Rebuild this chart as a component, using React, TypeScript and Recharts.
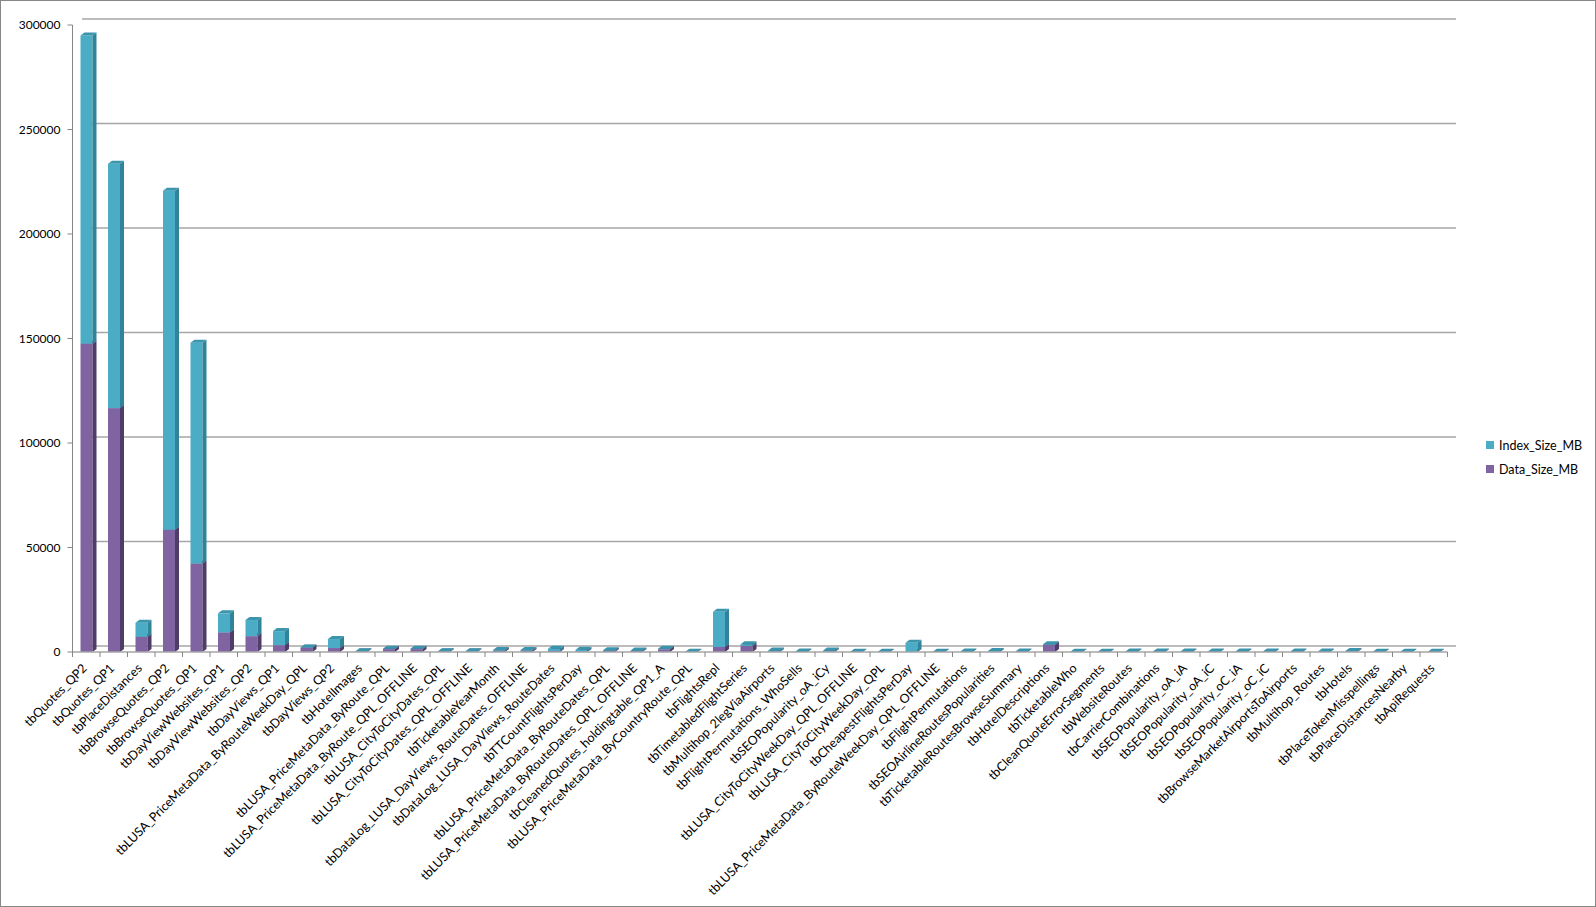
import React from "react";
import { BarChart, Bar, XAxis, YAxis, CartesianGrid } from "recharts";

// table sizes in MB
const categories = [
  "tbQuotes_QP2", "tbQuotes_QP1", "tbPlaceDistances", "tbBrowseQuotes_QP2", "tbBrowseQuotes_QP1",
  "tbDayViewWebsites_QP1", "tbDayViewWebsites_QP2", "tbDayViews_QP1", "tbLUSA_PriceMetaData_ByRouteWeekDay_QPL", "tbDayViews_QP2",
  "tbHotelImages", "tbLUSA_PriceMetaData_ByRoute_QPL", "tbLUSA_PriceMetaData_ByRoute_QPL_OFFLINE", "tbLUSA_CityToCityDates_QPL", "tbLUSA_CityToCityDates_QPL_OFFLINE",
  "tbTicketableYearMonth", "tbDataLog_LUSA_DayViews_RouteDates_OFFLINE", "tbDataLog_LUSA_DayViews_RouteDates", "tbTTCountFlightsPerDay", "tbLUSA_PriceMetaData_ByRouteDates_QPL",
  "tbLUSA_PriceMetaData_ByRouteDates_QPL_OFFLINE", "tbCleanedQuotes_holdingtable_QP1_A", "tbLUSA_PriceMetaData_ByCountryRoute_QPL", "tbFlightsRepl", "tbTimetabledFlightSeries",
  "tbMultihop_2legViaAirports", "tbFlightPermutations_WhoSells", "tbSEOPopularity_oA_iCy", "tbLUSA_CityToCityWeekDay_QPL_OFFLINE", "tbLUSA_CityToCityWeekDay_QPL",
  "tbCheapestFlightsPerDay", "tbLUSA_PriceMetaData_ByRouteWeekDay_QPL_OFFLINE", "tbFlightPermutations", "tbSEOAirlineRoutesPopularities", "tbTicketableRoutesBrowseSummary",
  "tbHotelDescriptions", "tbTicketableWho", "tbCleanQuoteErrorSegments", "tbWebsiteRoutes", "tbCarrierCombinations",
  "tbSEOPopularity_oA_iA", "tbSEOPopularity_oA_iC", "tbSEOPopularity_oC_iA", "tbSEOPopularity_oC_iC", "tbBrowseMarketAirportsToAirports",
  "tbMultihop_Routes", "tbHotels", "tbPlaceTokenMisspellings", "tbPlaceDistancesNearby", "tbApiRequests",
];

const dataSize = [
  147500, 116700, 7300, 58500, 42300,
  9400, 7600, 3300, 2000, 1900,
  200, 1400, 1400, 200, 200,
  600, 600, 500, 200, 500,
  400, 1300, 50, 2400, 2900,
  200, 50, 200, 50, 50,
  100, 50, 50, 100, 50,
  3400, 50, 50, 50, 50,
  50, 50, 50, 50, 50,
  50, 300, 50, 50, 50,
];

const indexSize = [
  147500, 116900, 6700, 162200, 105700,
  9100, 7700, 6700, 200, 4300,
  200, 150, 150, 150, 150,
  300, 300, 1100, 900, 300,
  300, 300, 100, 16800, 800,
  500, 150, 500, 100, 100,
  4300, 100, 150, 400, 150,
  300, 100, 100, 150, 150,
  150, 150, 150, 150, 150,
  150, 200, 100, 100, 100,
];

const yTicks = [0, 50000, 100000, 150000, 200000, 250000, 300000];
const Y_MAX = 300000;

const DATA_KEY = "Data_Size_MB";
const INDEX_KEY = "Index_Size_MB";

const rows = categories.map((name, i) => ({
  name,
  [DATA_KEY]: dataSize[i],
  [INDEX_KEY]: indexSize[i],
}));

const TEAL = { front: "#4BACC6", side: "#31839A", top: "#3B95AD" };
const PURPLE = { front: "#8064A2", side: "#4F3C69", top: "#6A5189" };

// 3D depth of the bars and of the back wall (Excel perspective look)
const DX = 4;
const DY = 3;
const WALL_DY = 6;

function Box3D(props: any) {
  const { x, y, width, height, colors } = props;
  if (x == null || y == null) return null;
  const w = width;
  const h = Math.max(height, 0);
  return (
    <g>
      <rect x={x} y={y} width={w} height={h} fill={colors.front} />
      <polygon
        points={`${x + w},${y} ${x + w + DX},${y - DY} ${x + w + DX},${y + h - DY} ${x + w},${y + h}`}
        fill={colors.side}
      />
      <polygon
        points={`${x},${y} ${x + DX},${y - DY} ${x + w + DX},${y - DY} ${x + w},${y}`}
        fill={colors.top}
      />
    </g>
  );
}

// label ends at the category centre; a small tick marks each category boundary
function CategoryTick(props: any) {
  const { x, y, payload, index, visibleTicksCount } = props;
  const half = 13.75;
  const last = index === (visibleTicksCount ?? categories.length) - 1;
  return (
    <g>
      <line x1={x - half} y1={y} x2={x - half} y2={y + 5} stroke="#868686" />
      {last && <line x1={x + half} y1={y} x2={x + half} y2={y + 5} stroke="#868686" />}
      <g transform={`translate(${x + 1.5},${y + 17})`}>
        <text
          x={0}
          y={0}
          transform="rotate(-45)"
          textAnchor="end"
          fontSize={12.5}
          fontFamily="Lato"
          fill="#000"
        >
          {payload.value}
        </text>
      </g>
    </g>
  );
}

// gridlines sit on the back wall, a little above the front axis ticks
function wallLines(props: any) {
  const { yAxis, offset } = props;
  const toY = (t: number) =>
    yAxis && typeof yAxis.scale === "function"
      ? yAxis.scale(t)
      : offset.top + offset.height * (1 - t / Y_MAX);
  return yTicks.map((t) => toY(t) - WALL_DY);
}

const legendItems = [
  { name: INDEX_KEY, color: TEAL.front },
  { name: DATA_KEY, color: PURPLE.front },
];

export default function App() {
  return (
    <div
      style={{
        position: "absolute",
        left: 0,
        top: 0,
        width: 1596,
        height: 907,
        boxSizing: "border-box",
        border: "1px solid #878787",
        background: "#fff",
      }}
    >
      <BarChart
        width={1594}
        height={905}
        data={rows}
        margin={{ top: 24, right: 147.5, left: 0, bottom: 0 }}
        barCategoryGap={0}
      >
        <CartesianGrid
          horizontal
          vertical={false}
          x={81}
          width={1374}
          stroke="#A6A6A6"
          strokeWidth={1.5}
          horizontalCoordinatesGenerator={wallLines}
        />
        <XAxis
          dataKey="name"
          interval={0}
          height={254}
          tickSize={0}
          tickMargin={0}
          tick={<CategoryTick />}
          axisLine={{ stroke: "#A6A6A6", strokeWidth: 1.5 }}
          tickLine={false}
        />
        <YAxis
          width={71.5}
          domain={[0, Y_MAX]}
          ticks={yTicks}
          tickSize={5}
          tickMargin={7}
          tick={{ fontSize: 12, fontFamily: "Lato", fill: "#000" }}
          axisLine={{ stroke: "#868686" }}
          tickLine={{ stroke: "#868686" }}
        />
        <Bar
          dataKey={DATA_KEY}
          stackId="size"
          barSize={12}
          isAnimationActive={false}
          shape={(p: any) => <Box3D {...p} colors={PURPLE} />}
        />
        <Bar
          dataKey={INDEX_KEY}
          stackId="size"
          barSize={12}
          isAnimationActive={false}
          shape={(p: any) => <Box3D {...p} colors={TEAL} />}
        />
      </BarChart>
      <div style={{ position: "absolute", left: 1485, top: 432, fontFamily: "Lato", fontSize: 12.5 }}>
        {legendItems.map((item) => (
          <div key={item.name} style={{ display: "flex", alignItems: "center", height: 24 }}>
            <span style={{ width: 8, height: 8, background: item.color, marginRight: 5 }} />
            <span>{item.name}</span>
          </div>
        ))}
      </div>
    </div>
  );
}
